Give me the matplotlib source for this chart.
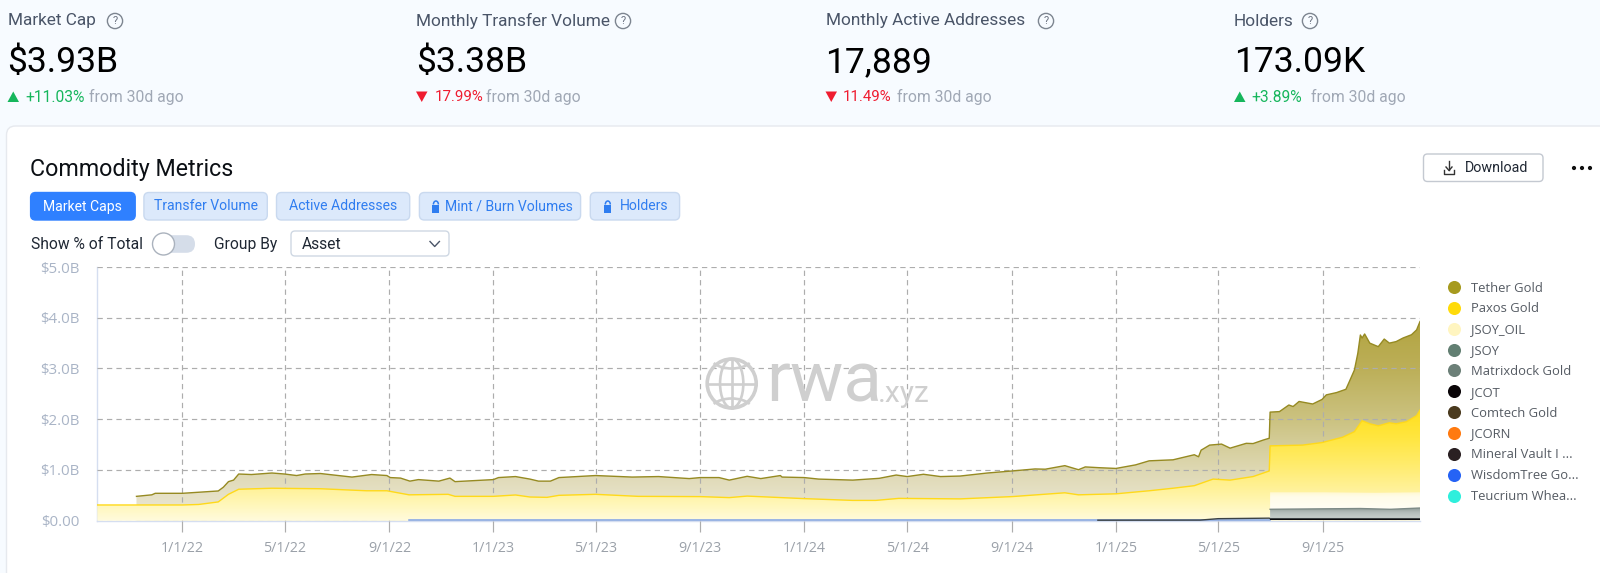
import numpy as np
import matplotlib
matplotlib.use("Agg")
import matplotlib.pyplot as plt
import matplotlib.dates as mdates
from matplotlib.colors import LinearSegmentedColormap
from matplotlib.lines import Line2D
from matplotlib.patches import Circle, FancyBboxPatch, Rectangle, Arc, Polygon, Ellipse

# ---------- data (tops of the stacked areas, $B) ----------
total_dates = ["2021-11-08","2021-11-26","2021-11-30","2022-01-01","2022-02-12","2022-02-18","2022-02-24","2022-03-02","2022-03-08","2022-03-23","2022-04-16","2022-05-01","2022-05-15","2022-05-25","2022-06-12","2022-07-03","2022-07-19","2022-08-11","2022-08-29","2022-09-02","2022-09-14","2022-09-25","2022-10-05","2022-10-29","2022-11-11","2022-11-17","2023-01-01","2023-01-07","2023-01-27","2023-02-13","2023-02-23","2023-03-09","2023-03-19","2023-05-01","2023-06-13","2023-07-14","2023-08-19","2023-09-01","2023-09-23","2023-10-05","2023-10-26","2023-11-11","2023-12-04","2023-12-06","2024-01-01","2024-01-18","2024-02-27","2024-03-29","2024-04-18","2024-05-01","2024-05-20","2024-06-09","2024-07-02","2024-08-03","2024-09-01","2024-09-28","2024-10-10","2024-11-02","2024-11-18","2024-11-26","2024-12-12","2025-01-01","2025-01-24","2025-02-09","2025-03-09","2025-04-03","2025-04-08","2025-04-11","2025-04-21","2025-05-05","2025-05-15","2025-06-03","2025-06-11","2025-06-23","2025-06-30","2025-07-01","2025-07-12","2025-07-23","2025-07-28","2025-08-04","2025-08-20","2025-08-31","2025-09-05","2025-09-17","2025-09-28","2025-10-02","2025-10-08","2025-10-12","2025-10-15","2025-10-17","2025-10-20","2025-10-26","2025-11-05","2025-11-12","2025-11-18","2025-11-26","2025-12-04","2025-12-14","2025-12-20","2025-12-24"]
total_values = [.48,.51,.54,.54,.586,.66,.77,.80,.92,.91,.94,.92,.89,.92,.93,.89,.86,.91,.89,.85,.84,.78,.81,.78,.84,.77,.81,.85,.87,.82,.78,.78,.85,.89,.86,.87,.83,.85,.85,.80,.875,.83,.89,.86,.85,.82,.80,.835,.90,.87,.915,.87,.88,.94,.98,1.02,1.015,1.085,1.005,1.06,1.045,1.03,1.10,1.18,1.20,1.30,1.26,1.39,1.49,1.51,1.43,1.525,1.52,1.59,1.625,2.14,2.15,2.28,2.25,2.35,2.30,2.39,2.48,2.525,2.59,2.74,2.97,3.30,3.66,3.60,3.68,3.50,3.43,3.58,3.50,3.53,3.60,3.665,3.76,3.925]

paxos_dates = ["2021-09-23","2022-01-01","2022-01-20","2022-02-12","2022-02-24","2022-03-08","2022-04-16","2022-06-12","2022-08-05","2022-08-29","2022-09-24","2022-11-09","2022-11-17","2023-01-01","2023-01-27","2023-02-13","2023-03-05","2023-03-19","2023-05-01","2023-06-20","2023-09-01","2023-10-05","2023-10-26","2024-01-01","2024-02-27","2024-03-25","2024-04-21","2024-07-02","2024-09-01","2024-11-02","2024-11-18","2025-01-01","2025-02-09","2025-03-09","2025-04-03","2025-04-25","2025-05-15","2025-06-11","2025-06-30","2025-07-01","2025-08-08","2025-08-31","2025-09-24","2025-10-08","2025-10-17","2025-10-26","2025-11-05","2025-11-18","2025-11-26","2025-12-08","2025-12-20","2025-12-24"]
paxos_values = [.31,.31,.32,.37,.52,.62,.64,.63,.59,.59,.51,.52,.48,.48,.507,.467,.46,.50,.52,.48,.475,.455,.485,.435,.40,.40,.44,.43,.475,.55,.51,.53,.59,.64,.69,.82,.80,.87,.98,1.475,1.49,1.54,1.645,1.755,1.97,1.91,1.87,1.93,1.91,1.95,2.07,2.18]

oil_dates = ["2025-07-01","2025-09-01","2025-11-01","2025-12-24"]
oil_values = [.56,.56,.55,.56]

jsoy_dates = ["2025-07-01","2025-08-04","2025-10-15","2025-11-18","2025-11-20","2025-12-24"]
jsoy_values = [.225,.23,.24,.225,.225,.25]

small_dates = ["2024-12-10","2025-04-10","2025-05-01","2025-06-30","2025-07-01","2025-12-24"]
small_values = [.01,.012,.04,.05,.04,.04]

wisdom_dates = ["2022-09-24","2025-07-01"]
wisdom_values = [.006,.006]

legend_labels = ["Tether Gold","Paxos Gold","JSOY_OIL","JSOY","Matrixdock Gold","JCOT","Comtech Gold","JCORN","Mineral Vault I ...","WisdomTree Go...","Teucrium Whea..."]
legend_colors = ["#a69a1e","#ffdb0a","#fff5c0","#627f72","#6c8078","#0a0508","#4a3a1e","#ff7a10","#2a2022","#2563f5","#2fefdc"]

y_ticks = [0,1,2,3,4,5]
y_tick_labels = ["$0.00","$1.0B","$2.0B","$3.0B","$4.0B","$5.0B"]
x_tick_dates = ["2022-01-01","2022-05-01","2022-09-01","2023-01-01","2023-05-01","2023-09-01","2024-01-01","2024-05-01","2024-09-01","2025-01-01","2025-05-01","2025-09-01"]
x_tick_labels = ["1/1/22","5/1/22","9/1/22","1/1/23","5/1/23","9/1/23","1/1/24","5/1/24","9/1/24","1/1/25","5/1/25","9/1/25"]

stats = [
    ("Market Cap","$3.93B","+11.03%",True,7.5,115,25.5,89),
    ("Monthly Transfer Volume","$3.38B","17.99%",False,416,623,434.5,486.5),
    ("Monthly Active Addresses","17,889","11.49%",False,825.5,1046,843,897),
    ("Holders","173.09K","+3.89%",True,1234,1310,1251.5,1311),
]
buttons = [("Market Caps",30.6,135.2,True,False),("Transfer Volume",143.9,267.3,False,False),
           ("Active Addresses",276.5,409.7,False,False),("Mint / Burn Volumes",419.4,580.6,False,True),
           ("Holders",590.3,679.6,False,True)]

# ---------- figure ----------
W, H = 1600, 573
fig = plt.figure(figsize=(16, 5.73), dpi=100, facecolor="#f7fbff")
ui = fig.add_axes([0,0,1,1], zorder=0); ui.set_xlim(0,W); ui.set_ylim(H,0); ui.axis("off")
UI = "Roboto"
def pt(px): return px*0.72

# card
ui.add_patch(FancyBboxPatch((6.5,126),1700,600,boxstyle="round,pad=0,rounding_size=9",fc="white",ec="#e6e9ee",lw=1))

for name,val,delta,up,x,qx,dx,fx in stats:
    ui.text(x,21,name,family=UI,fontsize=pt(17.3),color="#4a5568",va="center",ha="left")
    ui.add_patch(Circle((qx,21),7.6,fc="none",ec="#7d8590",lw=1))
    ui.text(qx,21,"?",family=UI,fontsize=pt(11),color="#6b7280",va="center",ha="center")
    ui.text(x,62.5,val,family=UI,fontsize=pt(35.5),color="black",va="center",ha="left")
    col = "#16b65c" if up else "#ef1c30"
    if up: tri=[(x,102),(x+11.5,102),(x+5.75,91.5)]
    else: tri=[(x,91.5),(x+11.5,91.5),(x+5.75,102)]
    ui.add_patch(Polygon(tri,closed=True,fc=col,ec="none"))
    ui.text(dx,97,delta,family=UI,fontsize=pt(15.6 if up else 15),color=col,va="center",ha="left")
    ui.text(fx,97,"from 30d ago",family=UI,fontsize=pt(15.8),color="#a0a8b5",va="center",ha="left")

ui.text(30,169.5,"Commodity Metrics",family=UI,fontsize=pt(23.2),color="#0b0f14",va="center",ha="left")

for label,x0,x1,active,lock in buttons:
    ui.add_patch(FancyBboxPatch((x0,192.5),x1-x0,27.5,boxstyle="round,pad=0,rounding_size=5",
                 fc="#2f80ff" if active else "#dce9fb", ec="#2f80ff" if active else "#c9d9ef", lw=1))
    c = "white" if active else "#2f7df0"
    cx=(x0+x1)/2
    if lock:
        cx += 9
        lx = x0+ (16.5 if label.startswith("Mint") else 17.5)
        ui.add_patch(Rectangle((lx-3.6,205),7.2,7.5,fc=c,ec="none"))
        ui.add_patch(Arc((lx,204.5),5,7,theta1=180,theta2=360,ec=c,lw=1.1))
    ui.text(cx,206.5,label,family=UI,fontsize=pt(14),color=c,va="center",ha="center")

ui.text(30.6,244.5,"Show % of Total",family=UI,fontsize=pt(15.6),color="#1f2733",va="center",ha="left")
ui.add_patch(FancyBboxPatch((154,235.2),41,17.6,boxstyle="round,pad=0,rounding_size=8.8",fc="#d5dde9",ec="none"))
ui.add_patch(Circle((163.5,244),11,fc="white",ec="#aab2bd",lw=1))
ui.text(214,244.5,"Group By",family=UI,fontsize=pt(15.6),color="#1f2733",va="center",ha="left")
ui.add_patch(FancyBboxPatch((291,231),158,25,boxstyle="round,pad=0,rounding_size=4",fc="white",ec="#cfd8e3",lw=1))
ui.text(302,244.5,"Asset",family=UI,fontsize=pt(15.6),color="#1f2733",va="center",ha="left")
ui.add_line(Line2D([430,434.7,439.4],[241.5,246.5,241.5],color="#4a5568",lw=1))

ui.add_patch(FancyBboxPatch((1423.5,154),119.5,27.5,boxstyle="round,pad=0,rounding_size=4",fc="white",ec="#c4c9d1",lw=1))
ui.text(1465,168,"Download",family=UI,fontsize=pt(14.2),color="#1f2733",va="center",ha="left")
ui.add_line(Line2D([1449,1449],[161,170],color="#333",lw=1))
ui.add_line(Line2D([1446,1449,1452],[167,170.5,167],color="#333",lw=1))
ui.add_line(Line2D([1444,1444,1454,1454],[170,173.5,173.5,170],color="#333",lw=1))
for dx in (1574,1582,1590):
    ui.add_patch(Circle((dx,168),2.1,fc="#111",ec="none"))

# ---------- chart ----------
L,R,T,B = 97.3,1420,267,520.7
ax = fig.add_axes([L/W,1-B/H,(R-L)/W,(B-T)/H],zorder=1)
ax.patch.set_alpha(0)

def nums(d): return mdates.date2num(np.array(d,dtype="datetime64[D]"))
def grad_fill(dates,vals,stops,lo,hi,z,base=0.0):
    xs=nums(dates); ys=np.array(vals)
    poly=ax.fill_between(xs,base,ys,facecolor="none",edgecolor="none",zorder=z)
    cmap=LinearSegmentedColormap.from_list("g",stops)
    g=np.linspace(0,1,256).reshape(-1,1)
    im=ax.imshow(g,extent=[xs[0],xs[-1],lo,hi],origin="lower",aspect="auto",cmap=cmap,vmin=0,vmax=1,zorder=z,interpolation="bilinear")
    im.set_clip_path(poly.get_paths()[0],transform=ax.transData)
    return xs,ys

# Tether
xs,ys=grad_fill(total_dates,total_values,
    [(0,"#ece8d6"),(0.13,"#e6e1c6"),(0.27,"#ddd7b0"),(0.5,"#ccc382"),(0.75,"#bdb05a"),(1,"#b2a440")],0,3.93,2)
ax.plot(xs,ys,color="#968a22",lw=1.0,zorder=3,solid_joinstyle="round")
# Paxos
xs,ys=grad_fill(paxos_dates,paxos_values,
    [(0,"#fffbdd"),(0.14,"#fff7bb"),(0.28,"#fff29b"),(0.5,"#ffec6e"),(0.75,"#ffe640"),(1,"#ffdf1e")],0,2.18,4)
ax.plot(xs,ys,color="#ffd91a",lw=1.0,zorder=5,solid_joinstyle="round")
# JSOY_OIL
grad_fill(oil_dates,oil_values,[(0,"#fffef6"),(0.75,"#fffce8"),(1,"#fff8d0")],0.22,0.56,6,base=0.22)
# JSOY / Matrixdock
xs,ys=grad_fill(jsoy_dates,jsoy_values,[(0,"#c9d1ce"),(0.55,"#b3bdba"),(1,"#8a9692")],0.03,0.25,7,base=0.03)
ax.plot(xs,ys,color="#7d8a86",lw=1.0,zorder=8)
# blue base line + dark small assets
ax.plot(nums(wisdom_dates),wisdom_values,color="#7ea2e6",lw=1.1,zorder=8)
ax.plot(nums(small_dates),small_values,color="#3c4244",lw=1.0,zorder=9,solid_capstyle="butt")
xb=nums(small_dates)[4:]
ax.fill_between(xb,0.005,np.array(small_values)[4:],color="#0a0a0c",zorder=9,lw=0)

ax.set_xlim(mdates.date2num(np.datetime64("2021-09-23")),mdates.date2num(np.datetime64("2025-12-24")))
ax.set_ylim(0,5)
ax.set_yticks(y_ticks); ax.set_yticklabels(y_tick_labels)
ax.set_xticks(nums(x_tick_dates)); ax.set_xticklabels(x_tick_labels)
ax.grid(True,color="#adadad",ls=(0,(4.5,3.5)),lw=0.85,zorder=10)
ax.set_axisbelow(False)
for g in ax.get_xgridlines()+ax.get_ygridlines():
    g.set_zorder(10)
ax.tick_params(axis="y",length=0,pad=12.5,labelcolor="#a9b4c6",labelsize=pt(15),labelfontfamily="Open Sans")
ax.tick_params(axis="x",length=8,width=0.85,color="#adadad",pad=6.5,labelcolor="#9ba1a9",labelsize=pt(14.2),labelfontfamily="Open Sans")
for s in ("top","right"): ax.spines[s].set_visible(False)
for s in ("left","bottom"):
    ax.spines[s].set_color("#d5def0"); ax.spines[s].set_linewidth(1)

handles=[Line2D([],[],ls="",marker="o",ms=9.4,mfc=c,mec="none") for c in legend_colors]
leg=ax.legend(handles,legend_labels,loc="upper left",bbox_to_anchor=(1447.5/W,1-281.5/H),bbox_transform=fig.transFigure,
          frameon=False,borderpad=0,borderaxespad=0,handlelength=1.05,handletextpad=0.72,labelspacing=0.605,
          prop={"family":"Open Sans","size":pt(13.0)},labelcolor="#555b63")

# ---------- watermark ----------
wm = fig.add_axes([0,0,1,1], zorder=2); wm.set_xlim(0,W); wm.set_ylim(H,0); wm.axis("off"); wm.patch.set_alpha(0)
wc="#cfcfcf"; cx,cy,r=731.7,383.5,24.5
wm.add_patch(Circle((cx,cy),r,fc="none",ec=wc,lw=2.6))
wm.add_patch(Ellipse((cx,cy),r*0.95,2*r,fc="none",ec=wc,lw=1.9))
wm.add_line(Line2D([cx,cx],[cy-r,cy+r],color=wc,lw=1.9))
wm.add_line(Line2D([cx-r,cx+r],[cy,cy],color=wc,lw=1.9))
wm.add_patch(Arc((cx,cy-27),2*r*0.88,24,theta1=20,theta2=160,ec=wc,lw=1.9))
wm.add_patch(Arc((cx,cy+27),2*r*0.88,24,theta1=200,theta2=340,ec=wc,lw=1.9))
wm.text(766,401.5,"rwa",family="Roboto",fontsize=pt(71),color=wc,va="baseline",ha="left")
wm.text(878,401.5,".xyz",family="Roboto",fontsize=pt(30),color=wc,va="baseline",ha="left")

fig.savefig("out.png",dpi=100,facecolor=fig.get_facecolor())
